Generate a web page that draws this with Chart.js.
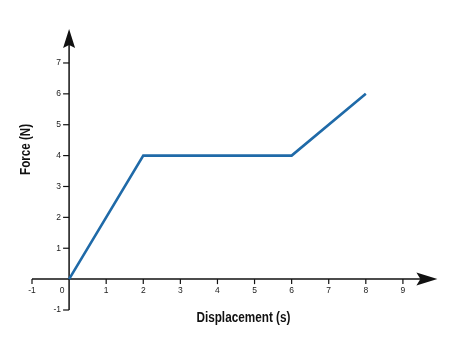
<!DOCTYPE html>
<html>
<head>
<meta charset="utf-8">
<script src="https://cdn.jsdelivr.net/npm/chart.js@4"></script>
<style>
  html, body { margin: 0; padding: 0; background: #fff; }
  #wrap { width: 474px; height: 341px; position: relative; }
</style>
</head>
<body>
<div id="wrap"><canvas id="myChart"></canvas></div>
<script>
let displacement = [0, 2, 6, 8];
let force = [0, 4, 4, 6];
let xTicks = [-1, 0, 1, 2, 3, 4, 5, 6, 7, 8, 9];
let yTicks = [-1, 1, 2, 3, 4, 5, 6, 7];
let xTitle = 'Displacement (s)';
let yTitle = 'Force (N)';

// condensed bold text: squeeze a normal bold face to the wanted width
drawNarrow = (ctx, text, x, y, width) => {
    let w = ctx.measureText(text).width;
    ctx.save();
    ctx.translate(x, y);
    ctx.scale(width / w, 1);
    ctx.fillText(text, 0, 0);
    ctx.restore();
}

// draws the arrowed axes, ticks and titles on the chart's own scales
let axesPlugin = {
    id: 'arrowAxes',
    beforeDatasetsDraw: (chart) => {
        let ctx = chart.ctx;
        let xs = chart.scales.x;
        let ys = chart.scales.y;
        let x0 = xs.getPixelForValue(0);
        let y0 = ys.getPixelForValue(0);
        let xEnd = xs.getPixelForValue(9.93);
        let yEnd = ys.getPixelForValue(8.1);

        ctx.save();
        ctx.strokeStyle = '#111';
        ctx.fillStyle = '#111';
        ctx.lineWidth = 1.5;

        // x axis
        ctx.beginPath();
        ctx.moveTo(xs.getPixelForValue(-1), y0);
        ctx.lineTo(xEnd - 12, y0);
        ctx.stroke();
        ctx.beginPath();
        ctx.moveTo(xEnd, y0);
        ctx.lineTo(xEnd - 21, y0 - 6.5);
        ctx.lineTo(xEnd - 17, y0);
        ctx.lineTo(xEnd - 21, y0 + 6.5);
        ctx.closePath();
        ctx.fill();

        // y axis
        ctx.beginPath();
        ctx.moveTo(x0, ys.getPixelForValue(-1));
        ctx.lineTo(x0, yEnd + 12);
        ctx.stroke();
        ctx.beginPath();
        ctx.moveTo(x0, yEnd);
        ctx.lineTo(x0 - 6, yEnd + 19);
        ctx.lineTo(x0, yEnd + 16);
        ctx.lineTo(x0 + 6, yEnd + 19);
        ctx.closePath();
        ctx.fill();

        ctx.font = '8.5px "Liberation Sans", Arial, sans-serif';
        ctx.fillStyle = '#222';
        ctx.lineWidth = 1.2;

        // x ticks
        ctx.textAlign = 'center';
        ctx.textBaseline = 'middle';
        xTicks.forEach((v) => {
            let px = xs.getPixelForValue(v);
            if (v !== 0) {
                ctx.beginPath();
                ctx.moveTo(px, y0);
                ctx.lineTo(px, y0 + 5);
                ctx.stroke();
                ctx.fillText(String(v), px, y0 + 11.5);
            } else {
                ctx.fillText('0', px - 7, y0 + 11.5);
            }
        });

        // y ticks
        ctx.textAlign = 'right';
        yTicks.forEach((v) => {
            let py = ys.getPixelForValue(v);
            ctx.beginPath();
            ctx.moveTo(x0 - 6, py);
            ctx.lineTo(x0, py);
            ctx.stroke();
            ctx.fillText(String(v), x0 - 8, py);
        });

        // titles
        ctx.fillStyle = '#111';
        ctx.font = 'bold 14px "Liberation Sans", Arial, sans-serif';
        ctx.textAlign = 'center';
        drawNarrow(ctx, xTitle, xs.getPixelForValue(4.7), y0 + 39, 94);
        ctx.translate(26, ys.getPixelForValue(4.2));
        ctx.rotate(-Math.PI / 2);
        drawNarrow(ctx, yTitle, 0, 0, 51);
        ctx.restore();
    }
};

let ctx = document.getElementById('myChart').getContext('2d');
let myChart = new Chart(ctx, {
    type: 'scatter',
    data: {
        datasets: [{
            label: 'Force',
            data: displacement.map((d, i) => ({ x: d, y: force[i] })),
            showLine: true,
            borderColor: '#1f6aa8',
            borderWidth: 2.6,
            pointRadius: 0,
            fill: false,
            tension: 0
        }]
    },
    options: {
        responsive: true,
        maintainAspectRatio: false,
        animation: false,
        layout: {
            padding: { left: 32, right: 34, top: 29, bottom: 31 }
        },
        scales: {
            x: { type: 'linear', min: -1, max: 10, display: false },
            y: { type: 'linear', min: -1, max: 8.1, display: false }
        },
        plugins: {
            legend: { display: false },
            tooltip: { enabled: false }
        }
    },
    plugins: [axesPlugin]
});
</script>
</body>
</html>
